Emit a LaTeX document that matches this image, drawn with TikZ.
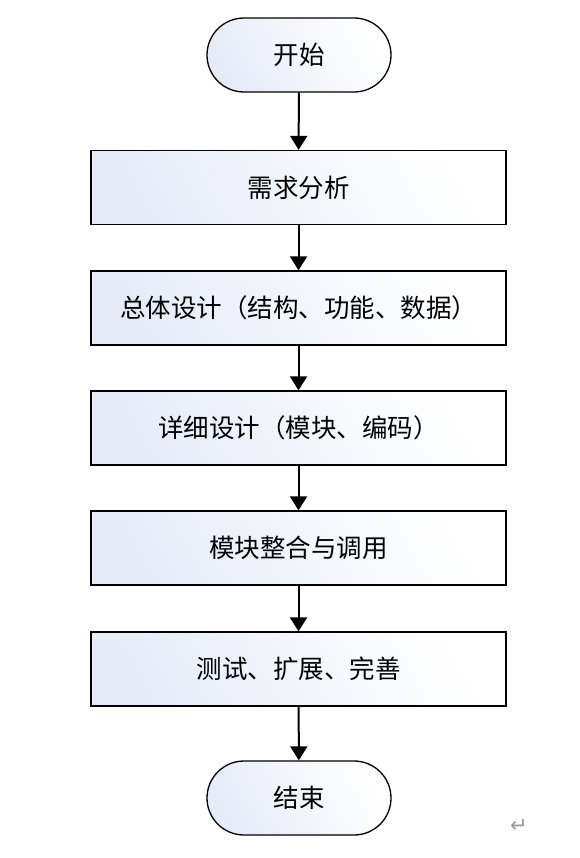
\documentclass[tikz,border=0pt]{standalone}
\usepackage{fontspec}
\setmainfont{Noto Sans CJK SC}
\newfontfamily\symfont{DejaVu Sans}
\usetikzlibrary{arrows.meta,shapes.misc}
\definecolor{shadec}{HTML}{E6EBF6}
\tikzset{
  x=1pt,y=-1pt,
  base/.style={draw=black,line width=1.3pt,left color=shadec,right color=white,shading angle=120,inner sep=0pt,font=\fontsize{25.5}{28}\selectfont},
  term/.style={base,rounded rectangle,minimum width=184pt,minimum height=74pt},
  proc/.style={base,rectangle,minimum width=415pt,minimum height=74pt},
  arr/.style={line width=2pt,-{Triangle[width=17pt,length=14pt]}}
}
\begin{document}
\begin{tikzpicture}
\useasboundingbox (0,0) rectangle (579,858);
\fill[white] (0,0) rectangle (579,858);
\node[term] (start) at (299,55) {开始};
\node[proc] (p1) at (298.5,187.5) {需求分析};
\node[proc] (p2) at (298.5,308) {总体设计（结构、功能、数据）};
\node[proc] (p3) at (298.5,428) {详细设计（模块、编码）};
\node[proc] (p4) at (298.5,548) {模块整合与调用};
\node[proc] (p5) at (298.5,669) {测试、扩展、完善};
\node[term] (end) at (299,798) {结束};
\draw[arr] (start) -- (p1);
\draw[arr] (p1) -- (p2);
\draw[arr] (p2) -- (p3);
\draw[arr] (p3) -- (p4);
\draw[arr] (p4) -- (p5);
\draw[arr] (p5) -- (end);
\node[text=gray!80,font=\symfont\fontsize{21}{24}\selectfont] (ret) at (519,826) {↵};
\end{tikzpicture}
\end{document}
